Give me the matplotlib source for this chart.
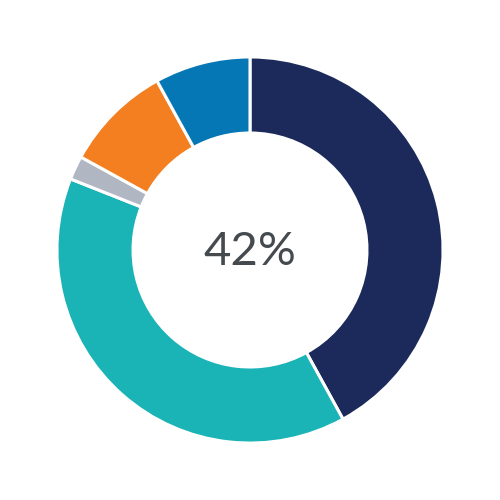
import matplotlib
matplotlib.use('Agg')
import matplotlib.pyplot as plt

labels = ['Navy', 'Teal', 'Gray', 'Orange', 'Blue']
values = [42, 39, 2, 9, 8]
colors = ['#1b2a5a', '#1ab3b6', '#b0b7c3', '#f47f20', '#0577b5']

fig = plt.figure(figsize=(5, 5), dpi=100)
ax = fig.add_axes([0, 0, 1, 1])
ax.pie(values, colors=colors, startangle=90, counterclock=False,
       wedgeprops=dict(width=0.394, edgecolor='white', linewidth=2.2))
ax.set_xlim(-1.295, 1.295)
ax.set_ylim(-1.295, 1.295)
ax.set_aspect('equal')
ax.text(0, -0.01, '42%', ha='center', va='center', fontsize=34,
        color='#454a4f', family=['Lato', 'DejaVu Sans'], fontweight='normal')
ax.axis('off')
fig.savefig('out.png', dpi=100, facecolor='white')
